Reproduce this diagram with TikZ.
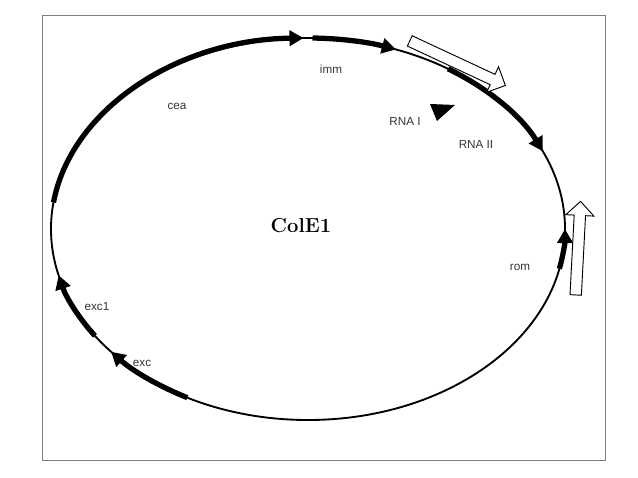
\documentclass[tikz,border=0pt]{standalone}
\usepackage{fontspec}
\newfontfamily\labelfont{Liberation Sans}
\usepackage{tikz}
\usetikzlibrary{arrows.meta,shapes.arrows}
\begin{document}
\begin{tikzpicture}[x=0.03cm, y=0.03cm]
    % Define styles
    \tikzset{
        backbone/.style={line width=1.6pt},
        gene/.style={line width=4.5pt, -{Triangle[length=12pt,width=13pt]}},
        lbl/.style={font=\labelfont\normalsize, text=black!80},
        openarrow/.style={single arrow, draw, line width=0.8pt, fill=white, minimum width=24pt, single arrow head extend=5pt, inner sep=3pt}
    }
    \useasboundingbox (0,0) rectangle (638,478);
    \draw[gray, line width=0.6pt] (42,18) rectangle (605,463);

    % Plasmid backbone
    \coordinate (c) at (308,249);
    \draw[backbone] (c) ellipse [x radius=7.71cm, y radius=5.73cm];

    % Genes
    \draw[gene] ([shift={(c)}]172:7.71cm and 5.73cm) arc[start angle=172, end angle=91, x radius=7.71cm, y radius=5.73cm];
    \draw[gene] ([shift={(c)}]89:7.71cm and 5.73cm) arc[start angle=89, end angle=70, x radius=7.71cm, y radius=5.73cm];
    \draw[gene] ([shift={(c)}]57:7.71cm and 5.73cm) arc[start angle=57, end angle=24, x radius=7.71cm, y radius=5.73cm];
    \draw[gene] ([shift={(c)}]-12:7.71cm and 5.73cm) arc[start angle=-12, end angle=0, x radius=7.71cm, y radius=5.73cm];
    \draw[gene] ([shift={(c)}]214:7.71cm and 5.73cm) arc[start angle=214, end angle=194, x radius=7.71cm, y radius=5.73cm];
    \draw[gene] ([shift={(c)}]242:7.71cm and 5.73cm) arc[start angle=242, end angle=220, x radius=7.71cm, y radius=5.73cm];

    % RNA I marker
    \fill (430,374) -- (455,373) -- (437,357) -- cycle;

    % Transcription arrows
    \node[openarrow, minimum height=90pt, rotate=-25] (tr1) at (455,416) {};
    \node[openarrow, minimum height=80pt, rotate=87] (tr2) at (578,227) {};

    % Labels
    \node[font=\bfseries\LARGE] (name) at (301,252) {ColE1};
    \node[lbl] (cea) at (177,372) {cea};
    \node[lbl] (imm) at (331,409) {imm};
    \node[lbl] (rna1) at (405,357) {RNA I};
    \node[lbl] (rna2) at (476,334) {RNA II};
    \node[lbl] (rom) at (520,211) {rom};
    \node[lbl] (exc1) at (97,171) {exc1};
    \node[lbl] (exc) at (142,115) {exc};
\end{tikzpicture}
\end{document}
